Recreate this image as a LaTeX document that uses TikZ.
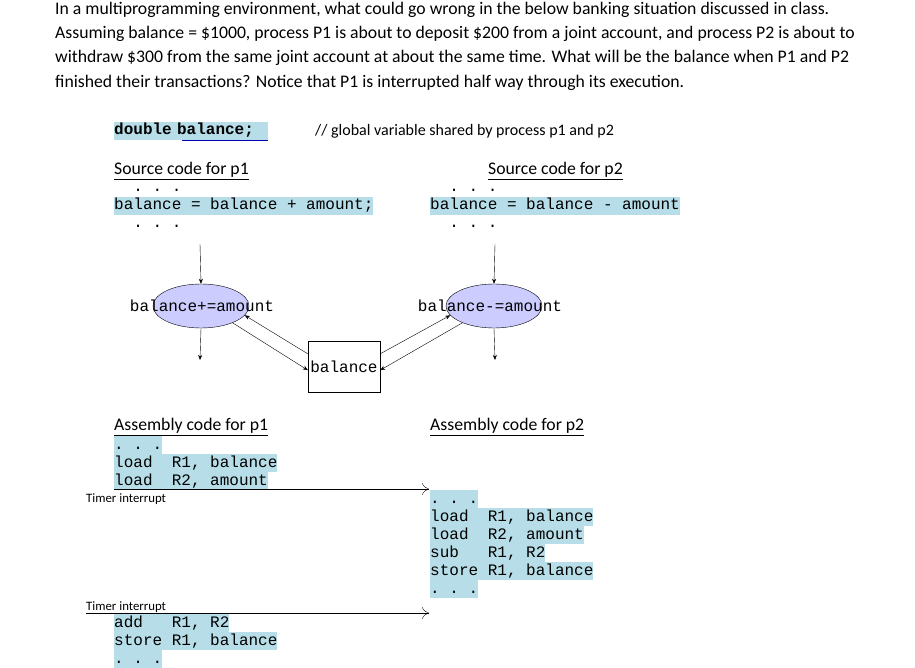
\documentclass[tikz,border=0pt]{standalone}
\usepackage{fontspec}
\setmainfont{Carlito}
\setmonofont{Liberation Mono}
\usetikzlibrary{positioning, arrows.meta, shapes.geometric}
\definecolor{hlblue}{RGB}{183,222,232}
\definecolor{lav}{RGB}{204,204,255}
\tikzset{
  txt/.style={anchor=west, inner sep=0pt, font=\fontsize{17.7}{20}\selectfont},
  small/.style={anchor=west, inner sep=0pt, font=\fontsize{12.8}{14}\selectfont},
  code/.style={anchor=west, inner sep=0pt, fill=hlblue, text height=13pt, text depth=5pt, font=\fontsize{16}{18}\selectfont\ttfamily},
  plain/.style={anchor=west, inner sep=0pt, font=\fontsize{16}{18}\selectfont\ttfamily},
  op/.style={ellipse, draw, fill=lav, minimum width=96pt, minimum height=44pt, inner sep=0pt},
  flow/.style={-{Stealth[length=5pt,width=4pt]}},
  jump/.style={-{To[length=7pt,width=12pt]}}
}
\begin{document}
\begin{tikzpicture}[x=1pt,y=-1pt]
\useasboundingbox (0,0) rectangle (915,668);
% question text
\node[txt] (q1) at (55,10) {In a multiprogramming environment, what could go wrong in the below banking situation discussed in class.};
\node[txt] (q2) at (55,34) {Assuming balance = \$1000, process P1 is about to deposit \$200 from a joint account, and process P2 is about to};
\node[txt] (q3) at (55,58) {withdraw \$300 from the same joint account at about the same time. What will be the balance when P1 and P2};
\node[txt] (q4) at (55,83) {finished their transactions? Notice that P1 is interrupted half way through its execution.};
% declaration
\node[code, font=\fontsize{16}{18}\selectfont\ttfamily\bfseries, minimum width=154pt, text width=154pt] (decl) at (114,131) {double balance;};
\draw[blue!70!black] (182,140) -- (268,140);
\node[txt, font=\fontsize{16}{18}\selectfont] (cmt) at (315,131) {// global variable shared by process p1 and p2};
% source code
\node[txt] (src1) at (114,171) {\underline{Source code for p1}};
\node[txt] (src2) at (488,171) {\underline{Source code for p2}};
\node[plain] (d1) at (114,190) {\ \ .\ .\ .};
\node[code] (s1) at (114,206) {balance = balance + amount;};
\node[plain] (d2) at (114,226) {\ \ .\ .\ .};
\node[plain] (d3) at (430,190) {\ \ .\ .\ .};
\node[code] (s2) at (430,206) {balance = balance - amount};
\node[plain] (d4) at (430,226) {\ \ .\ .\ .};
% operations
\node[op] (inc) at (201,306) {};
\node[op] (dec) at (494,306) {};
\node[plain, anchor=center] at (202,306) {balance+=amount};
\node[plain, anchor=center] at (490,306) {balance-=amount};
\node[draw, minimum width=72pt, minimum height=51pt, inner sep=0pt, font=\fontsize{16}{18}\selectfont\ttfamily] (bal) at (344,367) {balance};
\coordinate (inA) at (200,244);
\coordinate (outA) at (200,360);
\coordinate (inB) at (495,244);
\coordinate (outB) at (495,360);
\draw[flow] (inA) -- (inc.north);
\draw[flow] (inc.south) -- (outA);
\draw[flow] (inB) -- (dec.north);
\draw[flow] (dec.south) -- (outB);
\draw[flow] (inc.-28) -- (bal.185);
\draw[flow] (bal.160) -- (inc.-12);
\draw[flow] (bal.20) -- (dec.192);
\draw[flow] (dec.208) -- (bal.-5);
% assembly code
\node[txt] (asm1) at (114,427) {\underline{Assembly code for p1}};
\node[txt] (asm2) at (430,427) {\underline{Assembly code for p2}};
\node[code] (a0) at (114,445) {.\ .\ .};
\node[code] (a1) at (114,463) {load\ \ R1, balance};
\node[code] (a2) at (114,481) {load\ \ R2, amount};
\node[code] (b0) at (430,499) {.\ .\ .};
\node[code] (b1) at (430,517) {load\ \ R1, balance};
\node[code] (b2) at (430,535) {load\ \ R2, amount};
\node[code] (b3) at (430,553) {sub\ \ \ R1, R2};
\node[code] (b4) at (430,571) {store R1, balance};
\node[code] (b5) at (430,589) {.\ .\ .};
\node[code] (a3) at (114,623) {add\ \ \ R1, R2};
\node[code] (a4) at (114,641) {store R1, balance};
\node[code] (a5) at (114,659) {.\ .\ .};
% interrupts
\node[small] (t1) at (86,499) {Timer interrupt};
\node[small] (t2) at (86,607) {Timer interrupt};
\coordinate (j1) at (114,489);
\coordinate (k1) at (429,489);
\coordinate (j2) at (86,613);
\coordinate (k2) at (429,613);
\draw[jump] (j1) -- (k1);
\draw[jump] (j2) -- (k2);
\end{tikzpicture}
\end{document}
